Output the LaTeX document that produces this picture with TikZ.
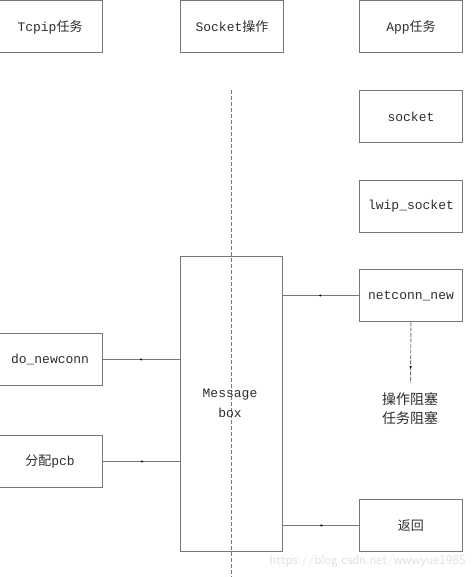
\documentclass[tikz,border=0pt]{standalone}
\usepackage{fontspec}
\newfontfamily\cjk{Noto Sans CJK SC}
\setmonofont{Liberation Mono}
\usetikzlibrary{arrows.meta,decorations.markings}
\definecolor{linegray}{HTML}{777777}
\definecolor{txtgray}{HTML}{2E2E2E}
\tikzset{
  box/.style={draw=linegray,line width=0.9pt,minimum width=103pt,minimum height=52pt,inner sep=0pt,text=txtgray,font=\fontsize{13}{15}\selectfont\ttfamily},
  conn/.style={draw=linegray,line width=0.9pt,postaction={decorate},
    decoration={markings,mark=at position #1 with {\arrow[black]{Latex[length=2.5pt,width=2.5pt]}}}},
  conn/.default=0.53,
  lifeline/.style={draw=linegray,line width=0.9pt,dash pattern=on 4pt off 2pt},
  lbl/.style={text=txtgray,align=center,inner sep=0pt}
}
\begin{document}
\begin{tikzpicture}[x=1pt,y=-1pt]
\useasboundingbox (0,0) rectangle (474,577);
\fill[white] (0,0) rectangle (474,577);
% lifeline
\coordinate (lt) at (231,90);
\coordinate (lb) at (231,577);
\draw[lifeline] (lt) -- (lb);
% top headers
\node[box,minimum width=105pt,anchor=north east] (tcpip) at (103,0.5) {Tcpip{\cjk 任务}};
\node[box,anchor=north west] (sock) at (180,0.5) {Socket{\cjk 操作}};
\node[box,anchor=north west] (app) at (359,0.5) {App{\cjk 任务}};
% app column
\node[box,anchor=north west] (socket) at (359,90) {socket};
\node[box,anchor=north west] (lwip) at (359,180) {lwip\_socket};
\node[box,anchor=north west] (nnew) at (359,269) {netconn\_new};
\node[box,anchor=north west] (ret) at (359,499) {\cjk 返回};
% message box
\node[draw=linegray,line width=0.9pt,fill=none,minimum width=102pt,minimum height=295pt,inner sep=0pt,anchor=north west] (mbox) at (180,256) {};
\node[lbl,font=\fontsize{13}{20}\selectfont\ttfamily] (mtxt) at (230,403) {Message\\box};
% left column
\node[box,minimum width=105pt,anchor=north east] (donew) at (103,333) {do\_newconn};
\node[box,minimum width=105pt,anchor=north east] (pcb) at (103,435) {{\cjk 分配}pcb};
% connectors
\coordinate (m1) at (mbox.east |- nnew.west);
\draw[conn] (nnew.west) -- (m1);
\coordinate (m2) at (mbox.west |- donew.east);
\draw[conn] (m2) -- (donew.east);
\coordinate (m3) at (mbox.west |- pcb.east);
\draw[conn] (pcb.east) -- (m3);
\coordinate (m4) at (mbox.east |- ret.west);
\draw[conn] (m4) -- (ret.west);
\coordinate (blk) at (410.5,383);
\draw[conn=0.77,dash pattern=on 4pt off 1.5pt] (nnew.south) -- (blk);
\node[lbl,font=\cjk\fontsize{14}{19}\selectfont] (blktxt) at (410,409) {操作阻塞\\任务阻塞};
% watermark
\node[text=black!12,font=\sffamily\fontsize{13.5}{15}\selectfont,inner sep=0pt,anchor=east] (wm) at (466,561) {https://blog.csdn.net/wwwyue1985};
\end{tikzpicture}
\end{document}
